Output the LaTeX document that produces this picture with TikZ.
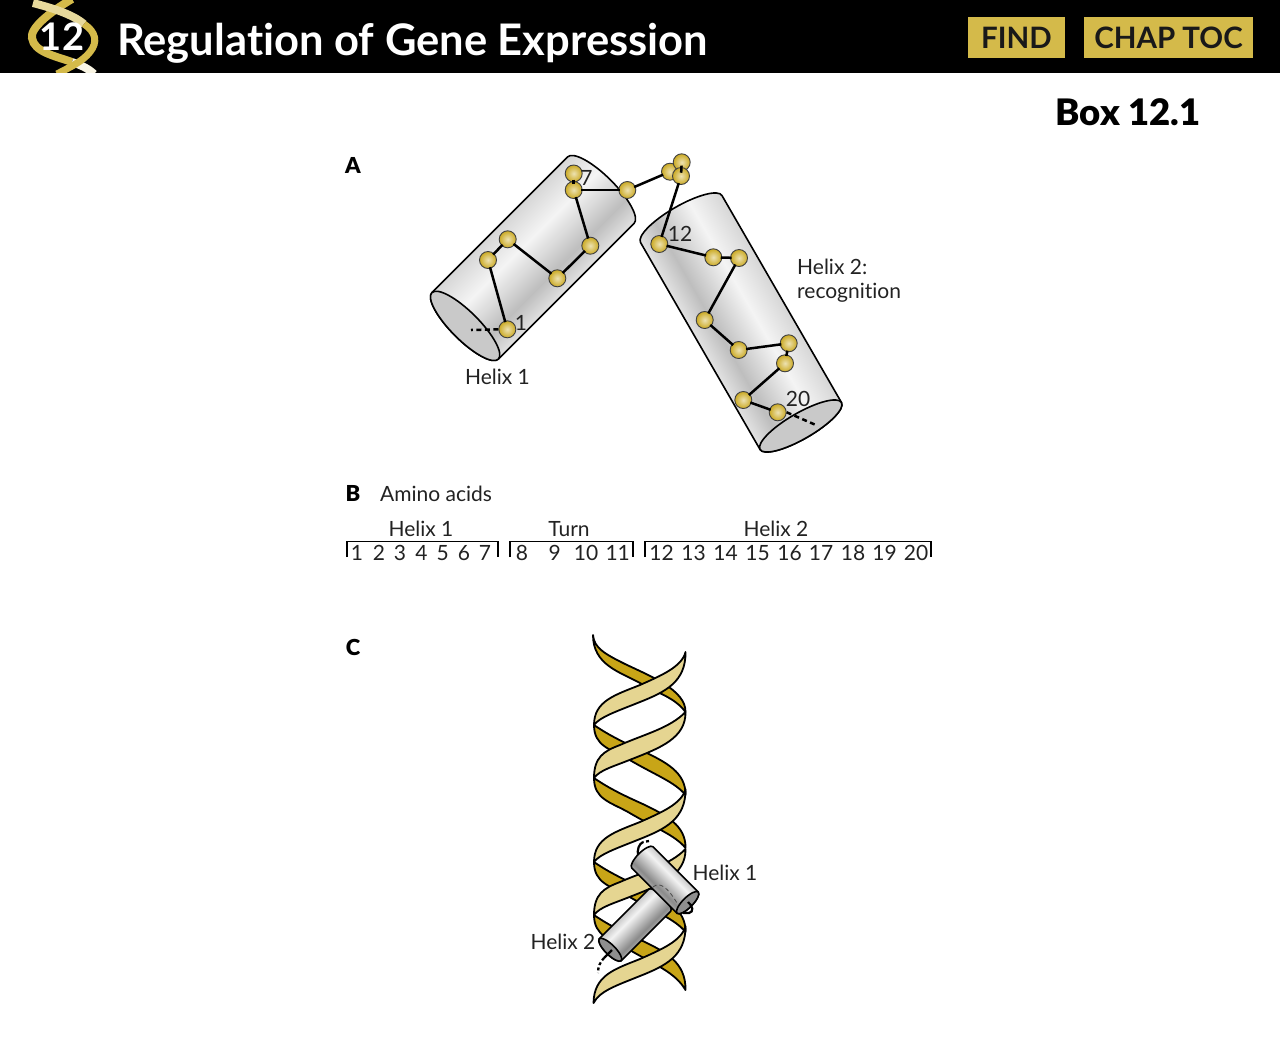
\documentclass[tikz,border=0pt]{standalone}
\usepackage{fontspec}
\setmainfont[Ligatures=NoCommon]{Lato}
\newfontfamily\heavyfont[Ligatures=NoCommon]{Lato Black}
\definecolor{cylE}{HTML}{E2E2E2}
\definecolor{cylC}{HTML}{BEBEBE}
\definecolor{cylW}{HTML}{F4F4F4}
\definecolor{cylD}{HTML}{D6D6D6}
\definecolor{cylM}{HTML}{A8A8A8}
\definecolor{cylK}{HTML}{8A8A8A}
\definecolor{cylL}{HTML}{C8C8C8}
\definecolor{cylV}{HTML}{F2F2F2}
\pgfdeclareverticalshading{cylA}{100bp}{color(0bp)=(cylE); color(25bp)=(cylE); color(37bp)=(cylC); color(58bp)=(cylW); color(75bp)=(cylD); color(100bp)=(cylD)}
\pgfdeclareverticalshading{cylB}{100bp}{color(0bp)=(cylM); color(25bp)=(cylM); color(33bp)=(cylK); color(50bp)=(cylL); color(62bp)=(cylV); color(75bp)=(cylL); color(100bp)=(cylL)}
\definecolor{goldbar}{HTML}{D4BA4A}
\definecolor{ribL}{HTML}{E5D591}
\definecolor{ribD}{HTML}{C8A517}
\definecolor{ink}{HTML}{222222}
\definecolor{faceA}{HTML}{C9C9C9}
\definecolor{faceB}{HTML}{8E8E8E}
\tikzset{
  ribbon/.style={draw=black,line width=1.8pt,line join=round},
  light/.style={ribbon,fill=ribL},
  darkrib/.style={ribbon,fill=ribD},
  bead/.style={circle,draw=black!75,line width=.9pt,minimum size=17pt,inner sep=0pt,shade,inner color=ribL!70!white,outer color=ribD!90!ribL},
  bond/.style={draw=black,line width=2.5pt,shorten <=-1.5pt,shorten >=-1.5pt},
  dashbond/.style={draw=black,line width=2.5pt,dash pattern=on 5pt off 3.5pt},
  lab/.style={inner sep=0pt,font=\fontsize{21}{25}\selectfont,text=ink},
  head/.style={inner sep=0pt,font=\fontsize{22}{26}\selectfont\heavyfont,text=black},
  num/.style={inner sep=0pt,font=\fontsize{21}{25}\selectfont,text=ink},
  brack/.style={draw=black,line width=1.5pt},
  curl/.style={draw=black,line width=2.2pt},
  curldash/.style={draw=black,line width=2.3pt,dash pattern=on 3pt off 2.5pt}
}
\newcommand{\cylinderat}[9]{%
  \begin{scope}[x=1pt,y=1pt,transform canvas={shift={(#1pt,-#2pt)},rotate=#3,xscale=#4}]
    \shade[shading=#8] (#5,-#6) arc[x radius=#7pt,y radius=#6pt,start angle=-90,end angle=90] -- (-#5,#6) arc[x radius=#7pt,y radius=#6pt,start angle=90,end angle=270] -- cycle;
    \draw[line width=1.6pt,line join=round] (#5,-#6) arc[x radius=#7pt,y radius=#6pt,start angle=-90,end angle=90] -- (-#5,#6) arc[x radius=#7pt,y radius=#6pt,start angle=90,end angle=270] -- cycle;
    \draw[line width=1.6pt,fill=#9] (#5,0) ellipse[x radius=#7pt,y radius=#6pt];
  \end{scope}}
\newcommand{\lightA}{(685.5,652) .. controls (682,667) and (660,676) .. (640,685) .. controls (615,695) and (594,701) .. (594,725) .. controls (600,717) and (615,712) .. (640,702) .. controls (665,692) and (686,682) .. (685.5,652) -- cycle}
\newcommand{\lightB}{(685.5,712) .. controls (670,728) and (645,734) .. (620,745) .. controls (604,751) and (594,757) .. (594,778) .. controls (600,770) and (612,767) .. (632,759) .. controls (660,748) and (686,738) .. (685.5,712) -- cycle}
\newcommand{\darkB}{(594,725) .. controls (610,736) and (625,743) .. (645,752) .. controls (665,762) and (686,772) .. (685.5,795) .. controls (675,782) and (655,775) .. (628,759) .. controls (610,749) and (594,746) .. (594,725) -- cycle}
\begin{document}
\begin{tikzpicture}[x=1pt,y=-1pt]
\useasboundingbox (0,0) rectangle (1280,1053);
\fill[white] (0,0) rectangle (1280,1053);
% header
\fill[black] (0,0) rectangle (1280,73);
\begin{scope}
\clip (0,0) rectangle (1280,72);
\draw[goldbar,line width=8pt] (72,-1) .. controls (50,12) and (30,28) .. (32,38) .. controls (34,52) and (55,56) .. (72,62);
\draw[white!85!goldbar,line width=8pt] (72,62) .. controls (80,65) and (88,68) .. (94,74);
\draw[goldbar!55!white,line width=8pt] (33,3) .. controls (52,8) and (72,14) .. (84,24);
\draw[goldbar,line width=7pt] (84,24) .. controls (96,32) and (98,42) .. (90,52) .. controls (82,62) and (70,67) .. (57,74);
\end{scope}
\node[inner sep=0pt,text=white,font=\fontsize{38}{42}\selectfont\bfseries] (chap) at (62,37) {12};
\node[inner sep=0pt,anchor=base west,text=white,font=\fontsize{43.5}{50}\selectfont\bfseries] (title) at (117,55) {Regulation of Gene Expression};
\node[minimum width=97pt,minimum height=41pt,inner sep=0pt,fill=goldbar,text=black!90,font=\fontsize{29.5}{36}\selectfont\bfseries] (find) at (1016.5,37.5) {FIND};
\node[minimum width=169pt,minimum height=41pt,inner sep=0pt,fill=goldbar,text=black!90,font=\fontsize{29.5}{36}\selectfont\bfseries] (toc) at (1168.5,37.5) {CHAP TOC};
\node[inner sep=0pt,text=black,font=\fontsize{36.5}{40}\selectfont\heavyfont] (box) at (1128,112) {Box 12.1};
% panel letters
\node[head] (pa) at (353,165) {A};
\node[head] (pb) at (353,493) {B};
\node[head] (pc) at (353,647) {C};
% panel A cylinders
\cylinderat{533}{258}{45}{-1}{96}{47}{14}{cylA}{faceA}
\cylinderat{741}{322.5}{-60}{1}{119.5}{47}{13}{cylA}{faceA}
% beads
\node[bead] (a1) at (507.3,329.3) {};
\node[bead] (a2) at (488,260) {};
\node[bead] (a3) at (507.7,239.3) {};
\node[bead] (a4) at (557.3,278.3) {};
\node[bead] (a5) at (590.3,245.7) {};
\node[bead] (a7) at (573.7,173.5) {};
\node[bead] (a6) at (573.7,190) {};
\node[bead] (a8) at (627.3,190) {};
\node[bead] (a9) at (670,171.7) {};
\node[bead] (a10) at (681.7,162.3) {};
\node[bead] (a11) at (681,176) {};
\node[bead] (a12) at (659.3,244) {};
\node[bead] (a13) at (713.3,257.3) {};
\node[bead] (a14) at (739,258) {};
\node[bead] (a15) at (704.7,320) {};
\node[bead] (a16) at (738.7,350) {};
\node[bead] (a17) at (788.7,343.3) {};
\node[bead] (a18) at (785,363.3) {};
\node[bead] (a19) at (743.3,400) {};
\node[bead] (a20) at (777.7,412.3) {};
\coordinate (s1) at (471,330);
\coordinate (s2) at (817,425.5);
\draw[bond] (a1)--(a2);
\draw[bond] (a2)--(a3);
\draw[bond] (a3)--(a4);
\draw[bond] (a4)--(a5);
\draw[bond] (a5)--(a6);
\draw[bond] (a6)--(a7);
\draw[bond] (a6)--(a8);
\draw[bond] (a8)--(a9);
\draw[bond] (a10)--(a11);
\draw[bond] (a11)--(a12);
\draw[bond] (a12)--(a13);
\draw[bond] (a13)--(a14);
\draw[bond] (a14)--(a15);
\draw[bond] (a15)--(a16);
\draw[bond] (a16)--(a17);
\draw[bond] (a17)--(a18);
\draw[bond] (a18)--(a19);
\draw[bond] (a19)--(a20);
\draw[dashbond] (a1.west)--(s1);
\draw[dashbond] (a20.east)--(s2);
\node[lab] (n1) at (521,323) {1};
\node[lab] (n7) at (586.5,178) {7};
\node[lab] (n12) at (680,234) {12};
\node[lab] (n20) at (798,399) {20};
\node[lab] (h1a) at (497.5,376.5) {Helix 1};
\node[lab,anchor=west] (h2a) at (797,267) {Helix 2:};
\node[lab,anchor=west] (h2b) at (797,292.5) {recognition};
% panel B
\node[lab,anchor=west] (aa) at (380,493.5) {Amino acids};
\node[lab] (bh1) at (421,529) {Helix 1};
\node[lab] (bt) at (569,529) {Turn};
\node[lab] (bh2) at (776,529) {Helix 2};
\draw[brack] (347,557) -- (347,541.5) -- (498,541.5) -- (498,557);
\draw[brack] (510,557) -- (510,541.5) -- (633,541.5) -- (633,557);
\draw[brack] (645,557) -- (645,541.5) -- (931,541.5) -- (931,557);
\foreach \t/\x in {1/357,2/379,3/400,4/421.5,5/442.7,6/464,7/485,8/522,9/554.6,10/586,11/617.7,12/661.5,13/693.5,14/725.5,15/757.5,16/789.5,17/821,18/853,19/884.5,20/916}
  \node[num] (b\t) at (\x,553) {\t};
% panel C helix
\draw[darkrib] (593,635) .. controls (594,648) and (605,654) .. (625,664) .. controls (650,676) and (686,690) .. (685.5,712) .. controls (675,698) and (660,694) .. (640,683) .. controls (620,672) and (593,665) .. (593,635) -- cycle;
\draw[darkrib] \darkB;
\begin{scope}[shift={(0,53)}]\draw[darkrib] \darkB;\end{scope}
\begin{scope}[shift={(0,137)}]\draw[darkrib] \darkB;\end{scope}
\draw[darkrib] (594,915) .. controls (610,926) and (625,933) .. (645,942) .. controls (665,952) and (686,962) .. (685.5,990) .. controls (675,972) and (655,965) .. (628,949) .. controls (610,939) and (594,936) .. (594,915) -- cycle;
\draw[light] \lightA;
\draw[light] \lightB;
\begin{scope}[shift={(0,137)}]\draw[light] \lightA;\end{scope}
\begin{scope}[shift={(0,137)}]\draw[light] \lightB;\end{scope}
\draw[light] (685.5,926) .. controls (682,941) and (660,950) .. (640,959) .. controls (615,969) and (594,975) .. (593.5,1003) .. controls (600,991) and (615,986) .. (640,976) .. controls (665,966) and (686,956) .. (685.5,926) -- cycle;
% panel C cylinders
\coordinate (ct1) at (649,841);
\coordinate (ct2) at (643,842);
\draw[curldash] (ct1) -- (ct2);
\draw[curl] (ct2) .. controls (639,844) and (637,849) .. (638,856);
\cylinderat{635}{925}{45}{-1}{35}{15.5}{5}{cylB}{faceB}
\cylinderat{665}{880}{-45}{1}{32}{15}{5}{cylB}{faceB}
\draw[black!70,line width=.8pt,dash pattern=on 4pt off 3pt] (653,887) .. controls (660,881) and (668,888) .. (677,903);
\draw[curl] (688,902) .. controls (693,906) and (694,912) .. (689,913) -- (683,913);
\draw[curl] (612,950) -- (604,958);
\draw[curldash] (604,958) .. controls (600,962) and (598,967) .. (598,973);
\node[lab] (h1c) at (725,873) {Helix 1};
\node[lab] (h2c) at (563,942) {Helix 2};
\end{tikzpicture}
\end{document}
